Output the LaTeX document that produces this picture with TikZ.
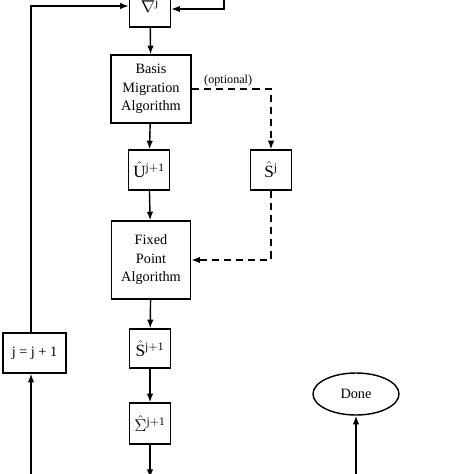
\documentclass[tikz,border=0pt]{standalone}
\usepackage{fontspec}
\setmainfont{Liberation Serif}
\usetikzlibrary{arrows.meta,shapes.geometric,positioning}

\begin{document}
\begin{tikzpicture}[x=0.7pt,y=-0.7pt,line width=1pt,
    >={Latex[length=6pt,width=4.5pt]},
    block/.style={draw,align=center,inner sep=1pt,minimum width=28.7pt,minimum height=28pt},
    bigblock/.style={block,minimum width=55.5pt},
    symblock/.style={block,font=\large},
    opt/.style={dashed,dash pattern=on 5pt off 3.5pt}]
     \useasboundingbox (0,0) rectangle (474,474);
     \clip (0,0) rectangle (474,474);
     \node[symblock,minimum height=29.4pt] (grad) at (150,6) {\raisebox{-4pt}{$\nabla^{\mathrm{j}}$}};
     \node[bigblock,minimum width=56pt,minimum height=47.6pt] (basis) at (151,89) {Basis\\[1pt]Migration\\[1pt]Algorithm};
     \node[symblock] (uhat) at (149,170) {$\hat{\mathrm{U}}^{\mathrm{j+1}}$};
     \node[symblock] (shatj) at (271,170) {$\hat{\mathrm{S}}^{\mathrm{j}}$};
     \node[bigblock,minimum height=54.6pt] (fixed) at (151,260) {Fixed\\[1pt]Point\\[1pt]Algorithm};
     \node[symblock,minimum height=27.3pt] (shatj1) at (150,348.5) {$\hat{\mathrm{S}}^{\mathrm{j+1}}$};
     \node[symblock,minimum height=28.7pt] (sigma) at (150,423.5) {$\hat{\Sigma}^{\mathrm{j+1}}$};
     \node[block,minimum width=44pt] (jinc) at (34.5,353) {j = j + 1};
     \node[draw,ellipse,minimum width=60.2pt,minimum height=29.4pt,inner sep=0pt] (done) at (356,394) {Done};
     % loose ends outside the crop
     \coordinate (rtop) at (224,-10);
     \coordinate (rin) at (224,9);
     \coordinate (lcorner) at (31,6);
     \coordinate (jbot) at (31,485);
     \coordinate (sigbot) at (150,478);
     \coordinate (donebot) at (356,485);
      \path[->]
      (grad) edge (basis)
      (basis) edge (uhat)
      (uhat) edge (fixed)
      (fixed) edge (shatj1)
      (shatj1) edge (sigma)
      (sigma) edge (sigbot)
      (jbot) edge (jbot |- jinc.south)
      (donebot) edge (done);
      \draw[->] (jinc.north -| lcorner) -- (lcorner) -- (lcorner -| grad.west);
      \draw[->] (rtop) -- (rin) -- (rin -| grad.east);
      \draw[->,opt] (basis.east) -| node[pos=0.23,above,inner sep=1.5pt,font=\fontsize{8.5}{10}\selectfont] {(optional)} (shatj.north);
      \draw[->,opt] (shatj.south) |- (fixed.east);
    \end{tikzpicture}
\end{document}
